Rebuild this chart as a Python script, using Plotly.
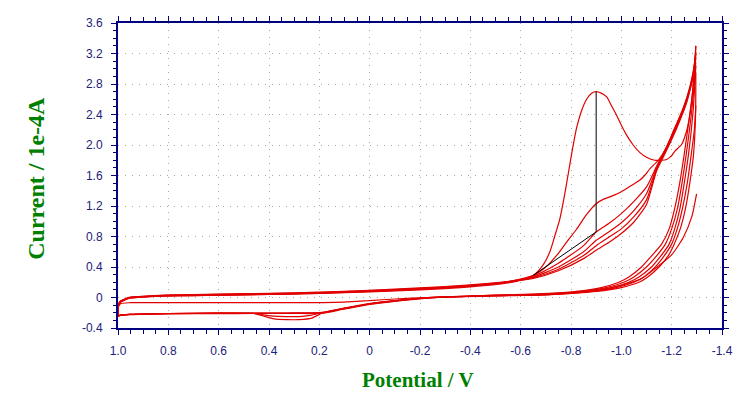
import plotly.graph_objects as go

# ---------------- data ----------------
x_ticks = [1.0, 0.8, 0.6, 0.4, 0.2, 0.0, -0.2, -0.4, -0.6, -0.8, -1.0, -1.2, -1.4]
x_tick_text = ["1.0", "0.8", "0.6", "0.4", "0.2", "0", "-0.2", "-0.4", "-0.6", "-0.8", "-1.0", "-1.2", "-1.4"]
y_ticks = [-0.4, 0.0, 0.4, 0.8, 1.2, 1.6, 2.0, 2.4, 2.8, 3.2, 3.6]
y_tick_text = ["-0.4", "0", "0.4", "0.8", "1.2", "1.6", "2.0", "2.4", "2.8", "3.2", "3.6"]

# forward (cathodic) sweeps: common low-current part
fwd_left_x = [1.0, 0.998, 0.992, 0.97, 0.952, 0.9, 0.807, 0.6, 0.4, 0.2, 0.0, -0.2, -0.4, -0.55, -0.65]
f1_left_y = [-0.25, -0.12, -0.07, -0.03, -0.01, 0.005, 0.02, 0.03, 0.04, 0.055, 0.08, 0.11, 0.15, 0.20, 0.29]
f2_left_y = [-0.24, -0.11, -0.06, -0.02, 0.0, 0.012, 0.025, 0.035, 0.045, 0.06, 0.085, 0.115, 0.155, 0.205, 0.29]
f3_left_y = [-0.23, -0.11, -0.065, -0.025, -0.005, 0.01, 0.02, 0.03, 0.04, 0.055, 0.075, 0.10, 0.14, 0.19, 0.28]
f4_left_y = [-0.23, -0.10, -0.06, -0.02, 0.0, 0.015, 0.03, 0.04, 0.05, 0.065, 0.09, 0.12, 0.16, 0.21, 0.27]
f5_left_y = [-0.22, -0.10, -0.055, -0.02, 0.0, 0.01, 0.025, 0.035, 0.045, 0.06, 0.08, 0.11, 0.15, 0.20, 0.26]
f6_left_y = [-0.22, -0.09, -0.05, -0.015, 0.005, 0.015, 0.03, 0.045, 0.055, 0.07, 0.095, 0.125, 0.165, 0.21, 0.25]

# cycle 1: the big reduction peak
f1_right_x = [-0.69, -0.716, -0.735, -0.755, -0.772, -0.789, -0.805, -0.822, -0.842, -0.862, -0.882, -0.9,
              -0.92, -0.942, -0.96, -0.981, -1.0, -1.021, -1.047, -1.074, -1.1, -1.133, -1.16, -1.18,
              -1.2, -1.213, -1.24, -1.259, -1.27, -1.279, -1.288, -1.296]
f1_right_y = [0.43, 0.60, 0.80, 1.02, 1.30, 1.62, 1.93, 2.22, 2.45, 2.60, 2.68, 2.70,
              2.68, 2.63, 2.52, 2.39, 2.26, 2.13, 2.00, 1.90, 1.84, 1.80, 1.80, 1.81,
              1.86, 1.92, 2.01, 2.18, 2.35, 2.56, 2.90, 3.30]
# cycle 2: shoulder
f2_right_x = [-0.7, -0.75, -0.79, -0.822, -0.86, -0.9, -0.93, -0.955, -0.99, -1.021, -1.05, -1.074,
              -1.095, -1.114, -1.147, -1.18, -1.206, -1.246, -1.279, -1.296]
f2_right_y = [0.40, 0.58, 0.76, 0.895, 1.08, 1.23, 1.29, 1.32, 1.37, 1.43, 1.49, 1.54,
              1.61, 1.69, 1.80, 1.97, 2.18, 2.48, 2.82, 3.22]
# cycles 3-6
f_low_x = [-0.75, -0.85, -0.9, -0.95, -1.0, -1.05, -1.1, -1.14, -1.18, -1.22, -1.26, -1.285, -1.296]
f3_right_y = [0.45, 0.68, 0.86, 0.97, 1.10, 1.26, 1.45, 1.72, 1.98, 2.27, 2.62, 2.95, 3.20]
f4_right_y = [0.40, 0.60, 0.75, 0.86, 0.98, 1.14, 1.36, 1.70, 1.96, 2.25, 2.60, 2.93, 3.15]
f5_right_y = [0.37, 0.55, 0.68, 0.79, 0.90, 1.06, 1.28, 1.68, 1.95, 2.24, 2.58, 2.90, 3.08]
f6_right_y = [0.35, 0.51, 0.62, 0.72, 0.84, 0.99, 1.22, 1.66, 1.93, 2.22, 2.56, 2.88, 3.02]

# reverse (anodic) sweeps: high-current part
r1_right_x = [-1.296, -1.29, -1.272, -1.25, -1.232, -1.212, -1.19, -1.16, -1.12, -1.08, -1.03, -0.99, -0.92, -0.85, -0.75, -0.65]
r1_right_y = [3.30, 2.90, 2.40, 1.88, 1.50, 1.17, 0.90, 0.70, 0.545, 0.40, 0.27, 0.20, 0.13, 0.09, 0.06, 0.045]
r2_right_x = [-1.296, -1.292, -1.278, -1.258, -1.241, -1.223, -1.20, -1.175, -1.14, -1.10, -1.05, -1.01, -0.94, -0.87, -0.77, -0.65]
r2_right_y = [3.20, 2.90, 2.40, 1.88, 1.50, 1.17, 0.90, 0.70, 0.545, 0.40, 0.27, 0.20, 0.13, 0.09, 0.06, 0.04]
r3_right_x = [-1.296, -1.294, -1.284, -1.267, -1.25, -1.233, -1.212, -1.19, -1.157, -1.12, -1.07, -1.03, -0.96, -0.89, -0.79, -0.65]
r3_right_y = [3.05, 2.90, 2.40, 1.88, 1.50, 1.17, 0.90, 0.70, 0.545, 0.40, 0.27, 0.20, 0.13, 0.09, 0.06, 0.035]
r4_right_x = [-1.296, -1.29, -1.278, -1.262, -1.243, -1.222, -1.20, -1.17, -1.135, -1.09, -1.05, -0.98, -0.91, -0.81, -0.65]
r4_right_y = [2.52, 2.20, 1.88, 1.50, 1.17, 0.90, 0.70, 0.545, 0.40, 0.27, 0.20, 0.13, 0.09, 0.06, 0.03]
r5_right_x = [-1.296, -1.295, -1.287, -1.272, -1.255, -1.234, -1.21, -1.186, -1.15, -1.105, -1.07, -1.0, -0.93, -0.83, -0.65]
r5_right_y = [2.95, 2.40, 1.88, 1.50, 1.17, 0.90, 0.70, 0.545, 0.40, 0.27, 0.20, 0.13, 0.09, 0.06, 0.03]
r6_right_x = [-1.299, -1.28, -1.245, -1.20, -1.15, -1.08, -1.0, -0.9, -0.75, -0.65]
r6_right_y = [1.36, 1.06, 0.78, 0.56, 0.42, 0.25, 0.16, 0.09, 0.045, 0.03]

# reverse sweeps: low-current part back to +1.0 V
rev_left_x = [-0.5, -0.35, -0.23, -0.1, 0.0, 0.1, 0.185, 0.23, 0.28, 0.33, 0.38, 0.46, 0.6, 0.8, 0.95, 0.99, 1.0]
r1_left_y = [0.03, 0.015, 0.0, -0.04, -0.08, -0.14, -0.20, -0.27, -0.29, -0.29, -0.28, -0.21, -0.205, -0.21, -0.22, -0.23, -0.25]
r2_left_y = [0.03, 0.012, -0.005, -0.045, -0.085, -0.145, -0.20, -0.23, -0.25, -0.25, -0.245, -0.21, -0.205, -0.21, -0.22, -0.23, -0.25]
r3_left_y = [0.025, 0.01, -0.005, -0.045, -0.085, -0.145, -0.195, -0.20, -0.20, -0.205, -0.205, -0.205, -0.205, -0.21, -0.22, -0.23, -0.24]
r4_left_y = [0.025, 0.01, -0.008, -0.05, -0.09, -0.15, -0.205, -0.21, -0.21, -0.21, -0.21, -0.21, -0.212, -0.215, -0.225, -0.235, -0.25]
r5_left_y = [0.02, 0.01, 0.0, -0.02, -0.04, -0.06, -0.067, -0.067, -0.067, -0.067, -0.067, -0.067, -0.067, -0.067, -0.068, -0.08, -0.12]
r6_left_y = [0.025, 0.012, -0.003, -0.04, -0.08, -0.14, -0.195, -0.205, -0.205, -0.205, -0.205, -0.205, -0.208, -0.212, -0.222, -0.232, -0.245]

# peak baseline construction (black)
base_x = [-0.65, -0.9, -0.9]
base_y = [0.29, 0.86, 2.70]

# ---------------- figure ----------------
RED = "rgb(225,0,0)"
fig = go.Figure()

forward = [
    (fwd_left_x + f1_right_x, f1_left_y + f1_right_y),
    (fwd_left_x + f2_right_x, f2_left_y + f2_right_y),
    (fwd_left_x + f_low_x, f3_left_y + f3_right_y),
    (fwd_left_x + f_low_x, f4_left_y + f4_right_y),
    (fwd_left_x + f_low_x, f5_left_y + f5_right_y),
    (fwd_left_x + f_low_x, f6_left_y + f6_right_y),
]
reverse = [
    (r1_right_x + rev_left_x, r1_right_y + r1_left_y),
    (r2_right_x + rev_left_x, r2_right_y + r2_left_y),
    (r3_right_x + rev_left_x, r3_right_y + r3_left_y),
    (r4_right_x + rev_left_x, r4_right_y + r4_left_y),
    (r5_right_x + rev_left_x, r5_right_y + r5_left_y),
    (r6_right_x + rev_left_x, r6_right_y + r6_left_y),
]
for xs, ys in forward + reverse:
    fig.add_trace(go.Scatter(x=xs, y=ys, mode="lines",
                             line=dict(color=RED, width=1.2, shape="spline", smoothing=0.6),
                             hoverinfo="skip", showlegend=False))

fig.add_trace(go.Scatter(x=base_x, y=base_y, mode="lines",
                         line=dict(color="black", width=1), hoverinfo="skip", showlegend=False))

AXIS = "#000080"
TICKFONT = dict(family="Liberation Sans, Arial, sans-serif", size=12, color="#22227a")
grid = dict(showgrid=True, gridcolor="#a8a8a8", gridwidth=1, griddash="1px,6px")

fig.update_xaxes(range=[1.0, -1.4], tickmode="array", tickvals=x_ticks, ticktext=x_tick_text,
                 showline=True, linecolor=AXIS, linewidth=2, mirror="ticks",
                 ticks="outside", ticklen=5, tickwidth=1, tickcolor=AXIS,
                 minor=dict(dtick=0.05, tick0=0, ticks="outside", ticklen=4, tickcolor=AXIS, showgrid=False),
                 zeroline=False, tickfont=TICKFONT, ticklabelstandoff=6, **grid)
fig.update_yaxes(range=[-0.4, 3.6], tickmode="array", tickvals=y_ticks, ticktext=y_tick_text,
                 showline=True, linecolor=AXIS, linewidth=2, mirror="ticks",
                 ticks="outside", ticklen=5, tickwidth=1, tickcolor=AXIS,
                 minor=dict(dtick=0.1, tick0=0, ticks="outside", ticklen=3, tickcolor=AXIS, showgrid=False),
                 zeroline=False, tickfont=TICKFONT, ticklabelstandoff=6, **grid)

SERIF = "Liberation Serif, Times New Roman, serif"
XTITLEFONT = dict(family=SERIF, size=21, color="#008000", weight="bold")
YTITLEFONT = dict(family=SERIF, size=24, color="#008000", weight="bold")
# the page body has an 8px default margin, so the figure is 8px smaller
fig.update_layout(
    width=744, height=387,
    margin=dict(l=110, r=30, t=8, b=67),
    paper_bgcolor="white", plot_bgcolor="white",
    annotations=[
        dict(text="Potential / V", xref="paper", yref="paper", x=0.497, y=-0.17,
             xanchor="center", yanchor="middle", showarrow=False, font=XTITLEFONT),
        dict(text="Current / 1e-4A", xref="paper", yref="paper", x=-0.137, y=0.49,
             xanchor="center", yanchor="middle", textangle=-90, showarrow=False, font=YTITLEFONT),
    ],
)

fig.write_html("out.html")
